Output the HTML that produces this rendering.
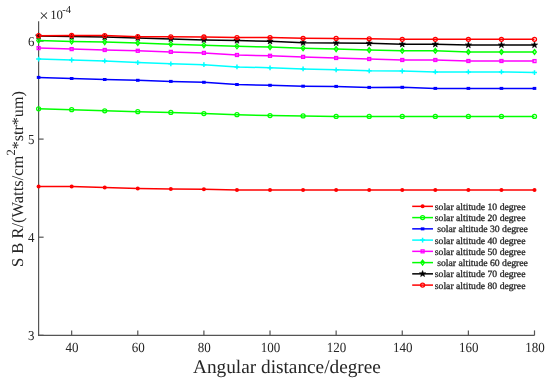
<!DOCTYPE html><html><head><meta charset="utf-8"><style>html,body{margin:0;padding:0;background:#fff;}body{width:550px;height:381px;overflow:hidden;}svg{display:block;}text{font-family:"Liberation Serif",serif;fill:#262626;text-rendering:geometricPrecision;}</style></head><body>
<svg width="550" height="381" viewBox="0 0 550 381">
<rect width="550" height="381" fill="#fff"/>
<path d="M38.6 21.3V335.4H534.5" fill="none" stroke="#555555" stroke-width="1.2"/>
<path d="M38.6 41.1h5" stroke="#555555" stroke-width="1.2"/>
<text transform="translate(34.4 46.10) scale(0.95 1)" font-size="13.6" text-anchor="end">6</text>
<path d="M38.6 139.1h5" stroke="#555555" stroke-width="1.2"/>
<text transform="translate(34.4 144.10) scale(0.95 1)" font-size="13.6" text-anchor="end">5</text>
<path d="M38.6 237.2h5" stroke="#555555" stroke-width="1.2"/>
<text transform="translate(34.4 242.20) scale(0.95 1)" font-size="13.6" text-anchor="end">4</text>
<path d="M38.6 335.3h5" stroke="#555555" stroke-width="1.2"/>
<text transform="translate(34.4 340.30) scale(0.95 1)" font-size="13.6" text-anchor="end">3</text>
<path d="M71.66 335.4v-5" stroke="#555555" stroke-width="1.2"/>
<text transform="translate(72.06 351.8) scale(0.93 1)" font-size="14" text-anchor="middle">40</text>
<path d="M137.78 335.4v-5" stroke="#555555" stroke-width="1.2"/>
<text transform="translate(138.18 351.8) scale(0.93 1)" font-size="14" text-anchor="middle">60</text>
<path d="M203.90 335.4v-5" stroke="#555555" stroke-width="1.2"/>
<text transform="translate(204.30 351.8) scale(0.93 1)" font-size="14" text-anchor="middle">80</text>
<path d="M270.02 335.4v-5" stroke="#555555" stroke-width="1.2"/>
<text transform="translate(270.42 351.8) scale(0.93 1)" font-size="14" text-anchor="middle">100</text>
<path d="M336.14 335.4v-5" stroke="#555555" stroke-width="1.2"/>
<text transform="translate(336.54 351.8) scale(0.93 1)" font-size="14" text-anchor="middle">120</text>
<path d="M402.26 335.4v-5" stroke="#555555" stroke-width="1.2"/>
<text transform="translate(402.66 351.8) scale(0.93 1)" font-size="14" text-anchor="middle">140</text>
<path d="M468.38 335.4v-5" stroke="#555555" stroke-width="1.2"/>
<text transform="translate(468.78 351.8) scale(0.93 1)" font-size="14" text-anchor="middle">160</text>
<path d="M534.50 335.4v-5" stroke="#555555" stroke-width="1.2"/>
<text transform="translate(534.90 351.8) scale(0.93 1)" font-size="14" text-anchor="middle">180</text>
<text x="39.3" y="20.9" font-size="16.5">×</text>
<text x="50.2" y="18.9" font-size="12.8">10</text>
<text x="62.3" y="12.6" font-size="10.5">-4</text>
<text x="193" y="372.9" font-size="19.3">Angular distance/degree</text>
<text transform="translate(22.6 267.0) rotate(-90)" font-size="16.5">S B R/(Watts/cm<tspan font-size="12.5" dy="-7.4">2</tspan><tspan dy="7.4" font-size="16.1">*str*um)</tspan></text>
<polyline points="38.60,186.40 71.66,186.40 104.72,187.60 137.78,188.40 170.84,189.10 203.90,189.30 236.96,190.10 270.02,190.10 303.08,190.10 336.14,190.10 369.20,190.10 402.26,190.10 435.32,190.10 468.38,190.10 501.44,190.10 534.50,190.10" fill="none" stroke="#ff0000" stroke-width="1.5" stroke-linejoin="round"/>
<circle cx="38.60" cy="186.40" r="2" fill="#ff0000"/>
<circle cx="71.66" cy="186.40" r="2" fill="#ff0000"/>
<circle cx="104.72" cy="187.60" r="2" fill="#ff0000"/>
<circle cx="137.78" cy="188.40" r="2" fill="#ff0000"/>
<circle cx="170.84" cy="189.10" r="2" fill="#ff0000"/>
<circle cx="203.90" cy="189.30" r="2" fill="#ff0000"/>
<circle cx="236.96" cy="190.10" r="2" fill="#ff0000"/>
<circle cx="270.02" cy="190.10" r="2" fill="#ff0000"/>
<circle cx="303.08" cy="190.10" r="2" fill="#ff0000"/>
<circle cx="336.14" cy="190.10" r="2" fill="#ff0000"/>
<circle cx="369.20" cy="190.10" r="2" fill="#ff0000"/>
<circle cx="402.26" cy="190.10" r="2" fill="#ff0000"/>
<circle cx="435.32" cy="190.10" r="2" fill="#ff0000"/>
<circle cx="468.38" cy="190.10" r="2" fill="#ff0000"/>
<circle cx="501.44" cy="190.10" r="2" fill="#ff0000"/>
<circle cx="534.50" cy="190.10" r="2" fill="#ff0000"/>
<polyline points="38.60,108.80 71.66,109.70 104.72,110.80 137.78,111.70 170.84,112.40 203.90,113.60 236.96,114.70 270.02,115.60 303.08,115.90 336.14,116.40 369.20,116.40 402.26,116.40 435.32,116.40 468.38,116.40 501.44,116.40 534.50,116.40" fill="none" stroke="#00ff00" stroke-width="1.5" stroke-linejoin="round"/>
<circle cx="38.60" cy="108.80" r="2.0" fill="none" stroke="#00ff00" stroke-width="1.3"/>
<circle cx="71.66" cy="109.70" r="2.0" fill="none" stroke="#00ff00" stroke-width="1.3"/>
<circle cx="104.72" cy="110.80" r="2.0" fill="none" stroke="#00ff00" stroke-width="1.3"/>
<circle cx="137.78" cy="111.70" r="2.0" fill="none" stroke="#00ff00" stroke-width="1.3"/>
<circle cx="170.84" cy="112.40" r="2.0" fill="none" stroke="#00ff00" stroke-width="1.3"/>
<circle cx="203.90" cy="113.60" r="2.0" fill="none" stroke="#00ff00" stroke-width="1.3"/>
<circle cx="236.96" cy="114.70" r="2.0" fill="none" stroke="#00ff00" stroke-width="1.3"/>
<circle cx="270.02" cy="115.60" r="2.0" fill="none" stroke="#00ff00" stroke-width="1.3"/>
<circle cx="303.08" cy="115.90" r="2.0" fill="none" stroke="#00ff00" stroke-width="1.3"/>
<circle cx="336.14" cy="116.40" r="2.0" fill="none" stroke="#00ff00" stroke-width="1.3"/>
<circle cx="369.20" cy="116.40" r="2.0" fill="none" stroke="#00ff00" stroke-width="1.3"/>
<circle cx="402.26" cy="116.40" r="2.0" fill="none" stroke="#00ff00" stroke-width="1.3"/>
<circle cx="435.32" cy="116.40" r="2.0" fill="none" stroke="#00ff00" stroke-width="1.3"/>
<circle cx="468.38" cy="116.40" r="2.0" fill="none" stroke="#00ff00" stroke-width="1.3"/>
<circle cx="501.44" cy="116.40" r="2.0" fill="none" stroke="#00ff00" stroke-width="1.3"/>
<circle cx="534.50" cy="116.40" r="2.0" fill="none" stroke="#00ff00" stroke-width="1.3"/>
<polyline points="38.60,77.40 71.66,78.50 104.72,79.50 137.78,80.30 170.84,81.40 203.90,82.30 236.96,84.50 270.02,85.30 303.08,86.20 336.14,86.40 369.20,87.40 402.26,87.30 435.32,88.40 468.38,88.40 501.44,88.40 534.50,88.40" fill="none" stroke="#0000ff" stroke-width="1.5" stroke-linejoin="round"/>
<rect x="36.80" y="75.90" width="3.6" height="3" fill="#0000ff"/>
<rect x="69.86" y="77.00" width="3.6" height="3" fill="#0000ff"/>
<rect x="102.92" y="78.00" width="3.6" height="3" fill="#0000ff"/>
<rect x="135.98" y="78.80" width="3.6" height="3" fill="#0000ff"/>
<rect x="169.04" y="79.90" width="3.6" height="3" fill="#0000ff"/>
<rect x="202.10" y="80.80" width="3.6" height="3" fill="#0000ff"/>
<rect x="235.16" y="83.00" width="3.6" height="3" fill="#0000ff"/>
<rect x="268.22" y="83.80" width="3.6" height="3" fill="#0000ff"/>
<rect x="301.28" y="84.70" width="3.6" height="3" fill="#0000ff"/>
<rect x="334.34" y="84.90" width="3.6" height="3" fill="#0000ff"/>
<rect x="367.40" y="85.90" width="3.6" height="3" fill="#0000ff"/>
<rect x="400.46" y="85.80" width="3.6" height="3" fill="#0000ff"/>
<rect x="433.52" y="86.90" width="3.6" height="3" fill="#0000ff"/>
<rect x="466.58" y="86.90" width="3.6" height="3" fill="#0000ff"/>
<rect x="499.64" y="86.90" width="3.6" height="3" fill="#0000ff"/>
<rect x="532.70" y="86.90" width="3.6" height="3" fill="#0000ff"/>
<polyline points="38.60,59.10 71.66,60.00 104.72,60.90 137.78,62.60 170.84,63.80 203.90,64.70 236.96,66.90 270.02,67.80 303.08,68.90 336.14,69.80 369.20,70.80 402.26,71.00 435.32,71.90 468.38,71.90 501.44,71.90 534.50,72.60" fill="none" stroke="#00ffff" stroke-width="1.5" stroke-linejoin="round"/>
<path d="M36.10 59.10H41.10M38.60 56.70V61.50" stroke="#00ffff" stroke-width="1.5" fill="none"/>
<path d="M69.16 60.00H74.16M71.66 57.60V62.40" stroke="#00ffff" stroke-width="1.5" fill="none"/>
<path d="M102.22 60.90H107.22M104.72 58.50V63.30" stroke="#00ffff" stroke-width="1.5" fill="none"/>
<path d="M135.28 62.60H140.28M137.78 60.20V65.00" stroke="#00ffff" stroke-width="1.5" fill="none"/>
<path d="M168.34 63.80H173.34M170.84 61.40V66.20" stroke="#00ffff" stroke-width="1.5" fill="none"/>
<path d="M201.40 64.70H206.40M203.90 62.30V67.10" stroke="#00ffff" stroke-width="1.5" fill="none"/>
<path d="M234.46 66.90H239.46M236.96 64.50V69.30" stroke="#00ffff" stroke-width="1.5" fill="none"/>
<path d="M267.52 67.80H272.52M270.02 65.40V70.20" stroke="#00ffff" stroke-width="1.5" fill="none"/>
<path d="M300.58 68.90H305.58M303.08 66.50V71.30" stroke="#00ffff" stroke-width="1.5" fill="none"/>
<path d="M333.64 69.80H338.64M336.14 67.40V72.20" stroke="#00ffff" stroke-width="1.5" fill="none"/>
<path d="M366.70 70.80H371.70M369.20 68.40V73.20" stroke="#00ffff" stroke-width="1.5" fill="none"/>
<path d="M399.76 71.00H404.76M402.26 68.60V73.40" stroke="#00ffff" stroke-width="1.5" fill="none"/>
<path d="M432.82 71.90H437.82M435.32 69.50V74.30" stroke="#00ffff" stroke-width="1.5" fill="none"/>
<path d="M465.88 71.90H470.88M468.38 69.50V74.30" stroke="#00ffff" stroke-width="1.5" fill="none"/>
<path d="M498.94 71.90H503.94M501.44 69.50V74.30" stroke="#00ffff" stroke-width="1.5" fill="none"/>
<path d="M532.00 72.60H537.00M534.50 70.20V75.00" stroke="#00ffff" stroke-width="1.5" fill="none"/>
<polyline points="38.60,48.10 71.66,49.10 104.72,50.00 137.78,50.80 170.84,51.90 203.90,52.90 236.96,55.00 270.02,55.80 303.08,56.90 336.14,58.00 369.20,59.00 402.26,60.00 435.32,60.00 468.38,61.00 501.44,61.00 534.50,61.10" fill="none" stroke="#ff00ff" stroke-width="1.5" stroke-linejoin="round"/>
<rect x="37.10" y="46.60" width="3" height="3" fill="none" stroke="#ff00ff" stroke-width="1.25"/>
<rect x="70.16" y="47.60" width="3" height="3" fill="none" stroke="#ff00ff" stroke-width="1.25"/>
<rect x="103.22" y="48.50" width="3" height="3" fill="none" stroke="#ff00ff" stroke-width="1.25"/>
<rect x="136.28" y="49.30" width="3" height="3" fill="none" stroke="#ff00ff" stroke-width="1.25"/>
<rect x="169.34" y="50.40" width="3" height="3" fill="none" stroke="#ff00ff" stroke-width="1.25"/>
<rect x="202.40" y="51.40" width="3" height="3" fill="none" stroke="#ff00ff" stroke-width="1.25"/>
<rect x="235.46" y="53.50" width="3" height="3" fill="none" stroke="#ff00ff" stroke-width="1.25"/>
<rect x="268.52" y="54.30" width="3" height="3" fill="none" stroke="#ff00ff" stroke-width="1.25"/>
<rect x="301.58" y="55.40" width="3" height="3" fill="none" stroke="#ff00ff" stroke-width="1.25"/>
<rect x="334.64" y="56.50" width="3" height="3" fill="none" stroke="#ff00ff" stroke-width="1.25"/>
<rect x="367.70" y="57.50" width="3" height="3" fill="none" stroke="#ff00ff" stroke-width="1.25"/>
<rect x="400.76" y="58.50" width="3" height="3" fill="none" stroke="#ff00ff" stroke-width="1.25"/>
<rect x="433.82" y="58.50" width="3" height="3" fill="none" stroke="#ff00ff" stroke-width="1.25"/>
<rect x="466.88" y="59.50" width="3" height="3" fill="none" stroke="#ff00ff" stroke-width="1.25"/>
<rect x="499.94" y="59.50" width="3" height="3" fill="none" stroke="#ff00ff" stroke-width="1.25"/>
<rect x="533.00" y="59.60" width="3" height="3" fill="none" stroke="#ff00ff" stroke-width="1.25"/>
<polyline points="38.60,40.40 71.66,41.40 104.72,42.10 137.78,43.00 170.84,44.20 203.90,45.20 236.96,46.30 270.02,47.10 303.08,48.20 336.14,49.10 369.20,50.10 402.26,50.80 435.32,50.80 468.38,52.00 501.44,52.00 534.50,52.00" fill="none" stroke="#00ff00" stroke-width="1.5" stroke-linejoin="round"/>
<path d="M38.60 37.90L40.50 40.40L38.60 42.90L36.70 40.40Z" fill="none" stroke="#00ff00" stroke-width="1.25"/>
<path d="M71.66 38.90L73.56 41.40L71.66 43.90L69.76 41.40Z" fill="none" stroke="#00ff00" stroke-width="1.25"/>
<path d="M104.72 39.60L106.62 42.10L104.72 44.60L102.82 42.10Z" fill="none" stroke="#00ff00" stroke-width="1.25"/>
<path d="M137.78 40.50L139.68 43.00L137.78 45.50L135.88 43.00Z" fill="none" stroke="#00ff00" stroke-width="1.25"/>
<path d="M170.84 41.70L172.74 44.20L170.84 46.70L168.94 44.20Z" fill="none" stroke="#00ff00" stroke-width="1.25"/>
<path d="M203.90 42.70L205.80 45.20L203.90 47.70L202.00 45.20Z" fill="none" stroke="#00ff00" stroke-width="1.25"/>
<path d="M236.96 43.80L238.86 46.30L236.96 48.80L235.06 46.30Z" fill="none" stroke="#00ff00" stroke-width="1.25"/>
<path d="M270.02 44.60L271.92 47.10L270.02 49.60L268.12 47.10Z" fill="none" stroke="#00ff00" stroke-width="1.25"/>
<path d="M303.08 45.70L304.98 48.20L303.08 50.70L301.18 48.20Z" fill="none" stroke="#00ff00" stroke-width="1.25"/>
<path d="M336.14 46.60L338.04 49.10L336.14 51.60L334.24 49.10Z" fill="none" stroke="#00ff00" stroke-width="1.25"/>
<path d="M369.20 47.60L371.10 50.10L369.20 52.60L367.30 50.10Z" fill="none" stroke="#00ff00" stroke-width="1.25"/>
<path d="M402.26 48.30L404.16 50.80L402.26 53.30L400.36 50.80Z" fill="none" stroke="#00ff00" stroke-width="1.25"/>
<path d="M435.32 48.30L437.22 50.80L435.32 53.30L433.42 50.80Z" fill="none" stroke="#00ff00" stroke-width="1.25"/>
<path d="M468.38 49.50L470.28 52.00L468.38 54.50L466.48 52.00Z" fill="none" stroke="#00ff00" stroke-width="1.25"/>
<path d="M501.44 49.50L503.34 52.00L501.44 54.50L499.54 52.00Z" fill="none" stroke="#00ff00" stroke-width="1.25"/>
<path d="M534.50 49.50L536.40 52.00L534.50 54.50L532.60 52.00Z" fill="none" stroke="#00ff00" stroke-width="1.25"/>
<polyline points="38.60,36.10 71.66,36.60 104.72,37.10 137.78,37.90 170.84,39.00 203.90,39.90 236.96,40.60 270.02,41.30 303.08,42.70 336.14,43.00 369.20,43.30 402.26,44.30 435.32,44.30 468.38,45.00 501.44,45.00 534.50,45.00" fill="none" stroke="#000000" stroke-width="1.5" stroke-linejoin="round"/>
<polygon points="38.60,32.80 39.39,35.01 41.74,35.08 39.88,36.52 40.54,38.77 38.60,37.45 36.66,38.77 37.32,36.52 35.46,35.08 37.81,35.01" fill="#000000" stroke="#000000" stroke-width="0.6"/>
<polygon points="71.66,33.30 72.45,35.51 74.80,35.58 72.94,37.02 73.60,39.27 71.66,37.95 69.72,39.27 70.38,37.02 68.52,35.58 70.87,35.51" fill="#000000" stroke="#000000" stroke-width="0.6"/>
<polygon points="104.72,33.80 105.51,36.01 107.86,36.08 106.00,37.52 106.66,39.77 104.72,38.45 102.78,39.77 103.44,37.52 101.58,36.08 103.93,36.01" fill="#000000" stroke="#000000" stroke-width="0.6"/>
<polygon points="137.78,34.60 138.57,36.81 140.92,36.88 139.06,38.32 139.72,40.57 137.78,39.25 135.84,40.57 136.50,38.32 134.64,36.88 136.99,36.81" fill="#000000" stroke="#000000" stroke-width="0.6"/>
<polygon points="170.84,35.70 171.63,37.91 173.98,37.98 172.12,39.42 172.78,41.67 170.84,40.35 168.90,41.67 169.56,39.42 167.70,37.98 170.05,37.91" fill="#000000" stroke="#000000" stroke-width="0.6"/>
<polygon points="203.90,36.60 204.69,38.81 207.04,38.88 205.18,40.32 205.84,42.57 203.90,41.25 201.96,42.57 202.62,40.32 200.76,38.88 203.11,38.81" fill="#000000" stroke="#000000" stroke-width="0.6"/>
<polygon points="236.96,37.30 237.75,39.51 240.10,39.58 238.24,41.02 238.90,43.27 236.96,41.95 235.02,43.27 235.68,41.02 233.82,39.58 236.17,39.51" fill="#000000" stroke="#000000" stroke-width="0.6"/>
<polygon points="270.02,38.00 270.81,40.21 273.16,40.28 271.30,41.72 271.96,43.97 270.02,42.65 268.08,43.97 268.74,41.72 266.88,40.28 269.23,40.21" fill="#000000" stroke="#000000" stroke-width="0.6"/>
<polygon points="303.08,39.40 303.87,41.61 306.22,41.68 304.36,43.12 305.02,45.37 303.08,44.05 301.14,45.37 301.80,43.12 299.94,41.68 302.29,41.61" fill="#000000" stroke="#000000" stroke-width="0.6"/>
<polygon points="336.14,39.70 336.93,41.91 339.28,41.98 337.42,43.42 338.08,45.67 336.14,44.35 334.20,45.67 334.86,43.42 333.00,41.98 335.35,41.91" fill="#000000" stroke="#000000" stroke-width="0.6"/>
<polygon points="369.20,40.00 369.99,42.21 372.34,42.28 370.48,43.72 371.14,45.97 369.20,44.65 367.26,45.97 367.92,43.72 366.06,42.28 368.41,42.21" fill="#000000" stroke="#000000" stroke-width="0.6"/>
<polygon points="402.26,41.00 403.05,43.21 405.40,43.28 403.54,44.72 404.20,46.97 402.26,45.65 400.32,46.97 400.98,44.72 399.12,43.28 401.47,43.21" fill="#000000" stroke="#000000" stroke-width="0.6"/>
<polygon points="435.32,41.00 436.11,43.21 438.46,43.28 436.60,44.72 437.26,46.97 435.32,45.65 433.38,46.97 434.04,44.72 432.18,43.28 434.53,43.21" fill="#000000" stroke="#000000" stroke-width="0.6"/>
<polygon points="468.38,41.70 469.17,43.91 471.52,43.98 469.66,45.42 470.32,47.67 468.38,46.35 466.44,47.67 467.10,45.42 465.24,43.98 467.59,43.91" fill="#000000" stroke="#000000" stroke-width="0.6"/>
<polygon points="501.44,41.70 502.23,43.91 504.58,43.98 502.72,45.42 503.38,47.67 501.44,46.35 499.50,47.67 500.16,45.42 498.30,43.98 500.65,43.91" fill="#000000" stroke="#000000" stroke-width="0.6"/>
<polygon points="534.50,41.70 535.29,43.91 537.64,43.98 535.78,45.42 536.44,47.67 534.50,46.35 532.56,47.67 533.22,45.42 531.36,43.98 533.71,43.91" fill="#000000" stroke="#000000" stroke-width="0.6"/>
<polyline points="38.60,35.70 71.66,35.50 104.72,35.60 137.78,36.70 170.84,36.80 203.90,37.00 236.96,37.60 270.02,37.60 303.08,38.30 336.14,38.40 369.20,38.80 402.26,39.30 435.32,39.30 468.38,39.30 501.44,39.30 534.50,39.30" fill="none" stroke="#ff0000" stroke-width="1.5" stroke-linejoin="round"/>
<circle cx="38.60" cy="35.70" r="2.0" fill="none" stroke="#ff0000" stroke-width="1.3"/>
<circle cx="71.66" cy="35.50" r="2.0" fill="none" stroke="#ff0000" stroke-width="1.3"/>
<circle cx="104.72" cy="35.60" r="2.0" fill="none" stroke="#ff0000" stroke-width="1.3"/>
<circle cx="137.78" cy="36.70" r="2.0" fill="none" stroke="#ff0000" stroke-width="1.3"/>
<circle cx="170.84" cy="36.80" r="2.0" fill="none" stroke="#ff0000" stroke-width="1.3"/>
<circle cx="203.90" cy="37.00" r="2.0" fill="none" stroke="#ff0000" stroke-width="1.3"/>
<circle cx="236.96" cy="37.60" r="2.0" fill="none" stroke="#ff0000" stroke-width="1.3"/>
<circle cx="270.02" cy="37.60" r="2.0" fill="none" stroke="#ff0000" stroke-width="1.3"/>
<circle cx="303.08" cy="38.30" r="2.0" fill="none" stroke="#ff0000" stroke-width="1.3"/>
<circle cx="336.14" cy="38.40" r="2.0" fill="none" stroke="#ff0000" stroke-width="1.3"/>
<circle cx="369.20" cy="38.80" r="2.0" fill="none" stroke="#ff0000" stroke-width="1.3"/>
<circle cx="402.26" cy="39.30" r="2.0" fill="none" stroke="#ff0000" stroke-width="1.3"/>
<circle cx="435.32" cy="39.30" r="2.0" fill="none" stroke="#ff0000" stroke-width="1.3"/>
<circle cx="468.38" cy="39.30" r="2.0" fill="none" stroke="#ff0000" stroke-width="1.3"/>
<circle cx="501.44" cy="39.30" r="2.0" fill="none" stroke="#ff0000" stroke-width="1.3"/>
<circle cx="534.50" cy="39.30" r="2.0" fill="none" stroke="#ff0000" stroke-width="1.3"/>
<path d="M412.2 206.35H433" stroke="#ff0000" stroke-width="1.5"/>
<circle cx="422.60" cy="206.35" r="2" fill="#ff0000"/>
<text transform="translate(434.8 209.95)" font-size="9.7" stroke="#262626" stroke-width="0.3" xml:space="preserve">solar altitude 10 degree</text>
<path d="M412.2 217.60H433" stroke="#00ff00" stroke-width="1.5"/>
<circle cx="422.60" cy="217.60" r="2.0" fill="none" stroke="#00ff00" stroke-width="1.3"/>
<text transform="translate(434.8 221.20)" font-size="9.7" stroke="#262626" stroke-width="0.3" xml:space="preserve">solar altitude 20 degree</text>
<path d="M412.2 228.85H433" stroke="#0000ff" stroke-width="1.5"/>
<rect x="420.80" y="227.35" width="3.6" height="3" fill="#0000ff"/>
<text transform="translate(434.8 232.45)" font-size="9.7" stroke="#262626" stroke-width="0.3" xml:space="preserve"> solar altitude 30 degree</text>
<path d="M412.2 240.10H433" stroke="#00ffff" stroke-width="1.5"/>
<path d="M420.10 240.10H425.10M422.60 237.70V242.50" stroke="#00ffff" stroke-width="1.5" fill="none"/>
<text transform="translate(434.8 243.70)" font-size="9.7" stroke="#262626" stroke-width="0.3" xml:space="preserve">solar altitude 40 degree</text>
<path d="M412.2 251.35H433" stroke="#ff00ff" stroke-width="1.5"/>
<rect x="421.10" y="249.85" width="3" height="3" fill="none" stroke="#ff00ff" stroke-width="1.25"/>
<text transform="translate(434.8 254.95)" font-size="9.7" stroke="#262626" stroke-width="0.3" xml:space="preserve">solar altitude 50 degree</text>
<path d="M412.2 262.60H433" stroke="#00ff00" stroke-width="1.5"/>
<path d="M422.60 260.10L424.50 262.60L422.60 265.10L420.70 262.60Z" fill="none" stroke="#00ff00" stroke-width="1.25"/>
<text transform="translate(434.8 266.20)" font-size="9.7" stroke="#262626" stroke-width="0.3" xml:space="preserve"> solar altitude 60 degree</text>
<path d="M412.2 273.85H433" stroke="#000000" stroke-width="1.5"/>
<polygon points="422.60,270.55 423.39,272.76 425.74,272.83 423.88,274.27 424.54,276.52 422.60,275.20 420.66,276.52 421.32,274.27 419.46,272.83 421.81,272.76" fill="#000000" stroke="#000000" stroke-width="0.6"/>
<text transform="translate(434.8 277.45)" font-size="9.7" stroke="#262626" stroke-width="0.3" xml:space="preserve">solar altitude 70 degree</text>
<path d="M412.2 285.10H433" stroke="#ff0000" stroke-width="1.5"/>
<circle cx="422.60" cy="285.10" r="2.0" fill="none" stroke="#ff0000" stroke-width="1.3"/>
<text transform="translate(434.8 288.70)" font-size="9.7" stroke="#262626" stroke-width="0.3" xml:space="preserve">solar altitude 80 degree</text>
</svg></body></html>
